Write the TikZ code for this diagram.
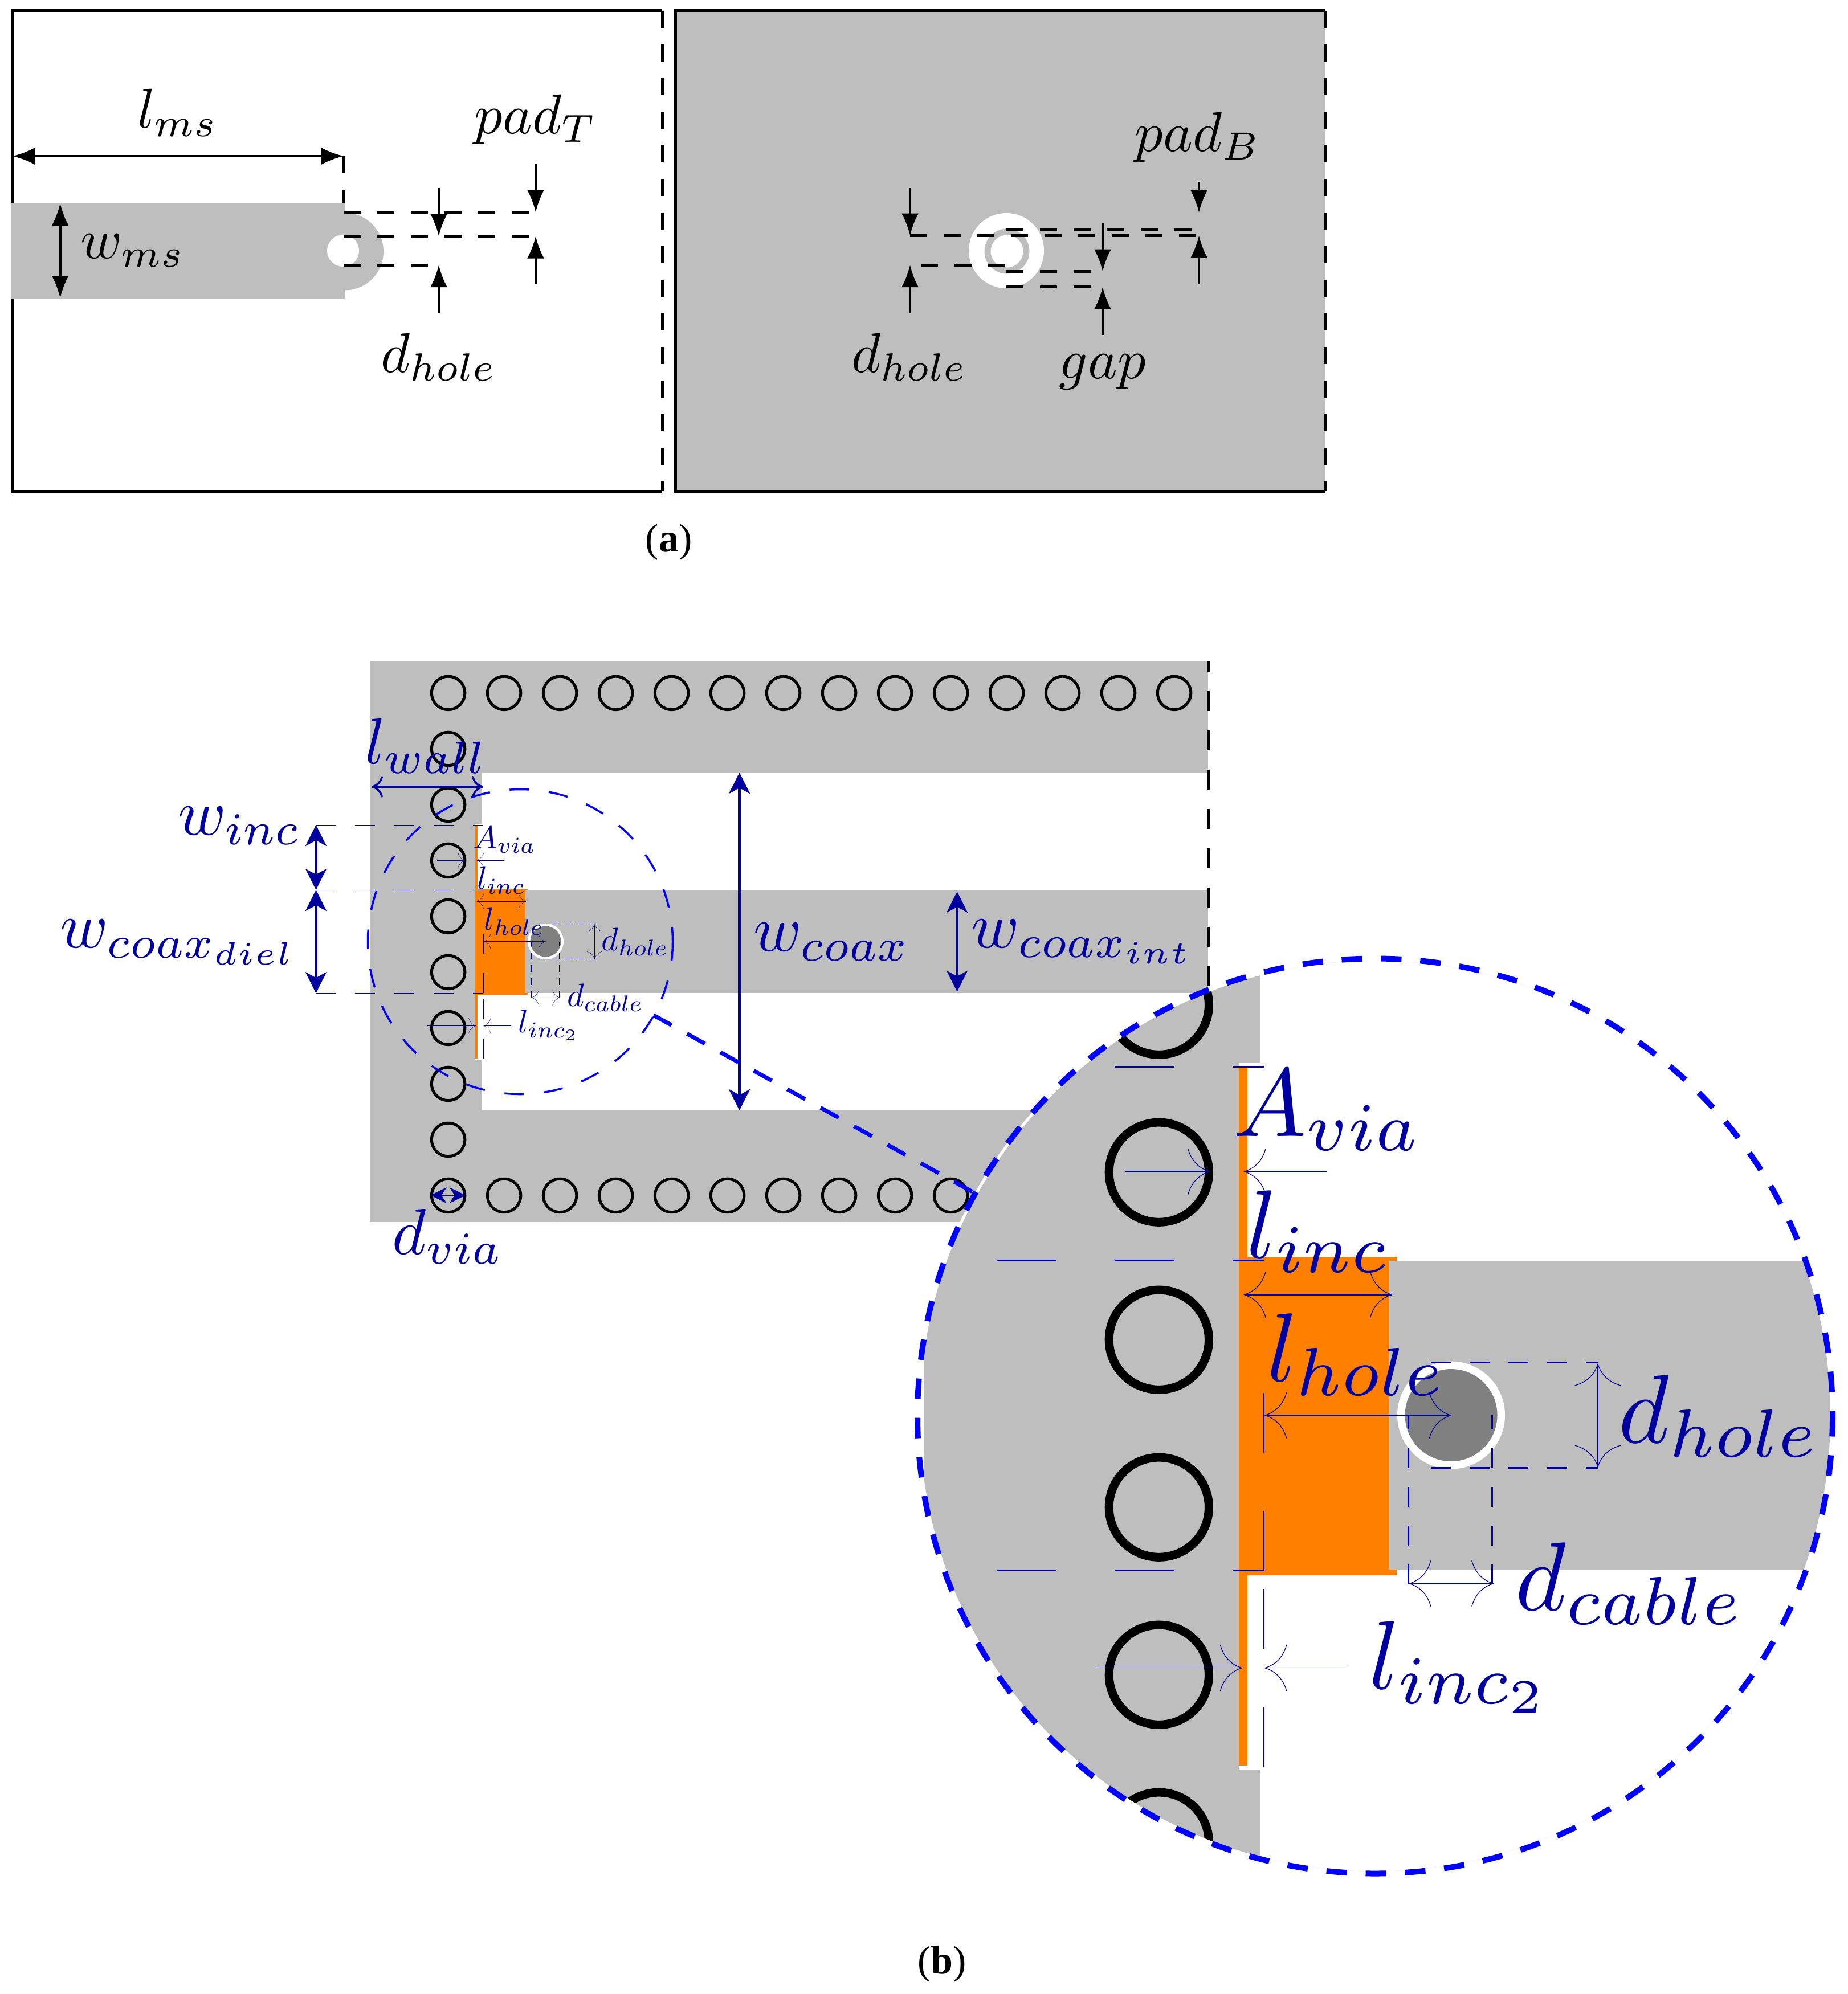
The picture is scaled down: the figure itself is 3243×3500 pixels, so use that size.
\documentclass[tikz,border=0pt]{standalone}
\usepackage[no-math]{fontspec}
\newfontfamily\capfont{Liberation Serif}
\usetikzlibrary{arrows.meta}
\definecolor{pcb}{RGB}{190,190,190}
\definecolor{navyb}{RGB}{0,0,160}
\definecolor{lensb}{RGB}{0,0,255}
\definecolor{feed}{RGB}{255,128,0}
\definecolor{core}{RGB}{128,128,128}
\tikzset{
  blk/.style={line width=5pt,black},
  blkd/.style={blk,dash pattern=on 30pt off 29pt},
  dimk/.style={line width=4pt,black},
  ltip/.tip={Latex[length=39pt,width=30pt]},
  mathk/.style={inner sep=0pt,scale=9.85,black},
  mathb/.style={inner sep=0pt,scale=11.4,navyb},
  stip/.tip={Stealth[length=37pt,width=37pt,inset=10pt]},
  wtip/.tip={Computer Modern Rightarrow[length=20pt,width=38pt,line width=3.5pt]},
  vtip/.tip={Stealth[length=28pt,width=28pt,inset=9pt]},
}
\newcommand{\scene}[2]{%
  \pgfmathsetmacro\fw{5*#1}%
  \pgfmathsetmacro\dA{35*#1}\pgfmathsetmacro\dB{34*#1}%
  \pgfmathsetmacro\eA{11.7*#1}\pgfmathsetmacro\eB{11*#1}%
  \pgfmathsetmacro\thinw{0.8*#1}\pgfmathsetmacro\hairw{0.5*#1}%
  \pgfmathsetmacro\tl{13*#1}\pgfmathsetmacro\tw{27*#1}\pgfmathsetmacro\tb{0.4*#1}%
  \pgfmathsetmacro\ls{5.7*#1}%
  \tikzset{thintip/.tip={Computer Modern Rightarrow[length=\tl pt,width=\tw pt,line width=\tb pt]},
    dimn/.style={navyb,line width=\thinw pt},
    dimh/.style={navyb,line width=\hairw pt},
    dashn/.style={navyb,line width=\thinw pt,dash pattern=on \dA pt off \dB pt},
    dashf/.style={navyb,line width=\thinw pt,dash pattern=on \eA pt off \eB pt},
    slabel/.style={inner sep=0pt,scale=\ls,navyb}}%
  % substrate
  \fill[pcb] (649,1160) rectangle (2120,2145);
  \fill[white] (845.7,1356) rectangle (2122.5,1949);
  \fill[pcb] (845.7,1562) rectangle (2120,1742.8);
  \draw[black,line width=\fw pt,dash pattern=on \dA pt off \dB pt] (2120,2145) -- (2120,1160);
  % feed
  \fill[white] (833.3,1446.3) rectangle (845.7,1859.7);
  \fill[feed] (833.3,1449.2) rectangle (838.3,1857.5);
  \fill[feed] (833.3,1559.8) rectangle (926,1746.2);
  \fill[pcb] (920.9,1562) rectangle (1000,1742.8);
  % vias
  \foreach \k in {0,...,9}{\draw[black,line width=\fw pt] (786.6,{1216.4+98*\k}) circle (29.2);}
  \foreach \k in {1,...,13}{\draw[black,line width=\fw pt] ({786.6+98*\k},1216.4) circle (29.2);
     \draw[black,line width=\fw pt] ({786.6+98*\k},2098.4) circle (29.2);}
  % coax hole
  \fill[white] (957.5,1652.5) circle (31.5);
  \fill[core] (957.5,1652.5) circle (27);
  % extension lines
  \draw[dashn] (553.6,1448.6) -- (848,1448.6);
  \draw[dashn] (553.6,1562) -- (848,1562);
  \draw[dashn] (553.6,1743.4) -- (848,1743.4);
  \draw[dashn] (848,1743.4) -- (848,1639);
  \draw[dashn] (848,1858) -- (848,1743.4);
  \draw[dashf] (945.5,1621.4) -- (1043.3,1621.4);
  \draw[dashf] (945.5,1683.3) -- (1043.3,1683.3);
  \draw[dashf] (932.5,1751.5) -- (932.5,1652.5);
  \draw[dashf] (981.5,1751.5) -- (981.5,1652.5);
  % thin dimension arrows
  \draw[dimn,-thintip] (767,1510) -- (816.4,1510);
  \draw[dimn,-thintip] (884.8,1510) -- (836.2,1510);
  \draw[dimn,thintip-thintip] (836.2,1582) -- (923,1582);
  \draw[dimn,thintip-thintip] (848.4,1652.6) -- (957.6,1652.6);
  \draw[dimn,thintip-thintip] (1043.3,1622.3) -- (1043.3,1683);
  \draw[dimn,thintip-thintip] (932.8,1751) -- (982.4,1751);
  \draw[dimh,-thintip] (749.8,1800.4) -- (835.3,1800.4);
  \draw[dimh,-thintip] (897.4,1800.4) -- (848.4,1800.4);
  % labels
  \node[slabel] (#2avia) at (885.5,1474) {$A_{via}$};
  \node[slabel] (#2linc) at (880,1545) {$l_{inc}$};
  \node[slabel] (#2lhole) at (902.5,1617) {$l_{hole}$};
  \node[slabel] (#2dhole) at (1114.5,1653) {$d_{hole}$};
  \node[slabel] (#2dcable) at (1062,1751) {$d_{cable}$};
  \node[slabel] (#2lincb) at (963,1800) {$l_{inc_2}$};
}
\begin{document}
\begin{tikzpicture}[x=1pt,y=-1pt]
\useasboundingbox (0,0) rectangle (3243,3500);
\fill[white] (0,0) rectangle (3243,3500);
% ---------- panel (a), top layer ----------
\draw[blk] (1162,19) -- (21.5,19) -- (21.5,862) -- (1162,862);
\draw[blkd] (1162,19) -- (1162,862);
\fill[pcb] (19,356) rectangle (605,523.5);
\fill[pcb] (605,441.5) circle (68);
\fill[white] (602,440) circle (28);
\draw[blkd] (603,274) -- (603,356);
\draw[blkd] (603,372.5) -- (940,372.5);
\draw[blkd] (603,414.5) -- (940,414.5);
\draw[blkd] (603,465) -- (770,465);
\draw[dimk,ltip-ltip] (22,274) -- (603,274);
\draw[dimk,ltip-ltip] (105.6,357) -- (105.6,523);
\draw[dimk,-ltip] (770,330) -- (770,414.5);
\draw[dimk,-ltip] (770,550) -- (770,465);
\draw[dimk,-ltip] (940,287) -- (940,372.5);
\draw[dimk,-ltip] (940,499) -- (940,414.5);
\node[mathk] (lms) at (312,198) {$l_{ms}$};
\node[mathk] (padt) at (940,210) {$pad_T$};
\node[mathk] (wms) at (233,440) {$w_{ms}$};
\node[mathk] (dha) at (770,627) {$d_{hole}$};
% ---------- panel (a), bottom layer ----------
\fill[pcb] (1185,19) rectangle (2325.6,862);
\draw[blk] (2325.6,19) -- (1185,19) -- (1185,862) -- (2325.6,862);
\draw[blkd] (2325.6,19) -- (2325.6,862);
\fill[white] (1766,440) circle (66);
\fill[pcb] (1767,441) circle (39.5);
\fill[white] (1767,441) circle (28.5);
\draw[blkd] (1597,413.5) -- (2104,413.5);
\draw[blkd] (1766,403.5) -- (2104,403.5);
\draw[blkd] (1616,465) -- (1766,465);
\draw[blkd] (1766,476.5) -- (1935,476.5);
\draw[blkd] (1766,503.5) -- (1935,503.5);
\draw[dimk,-ltip] (1597,330) -- (1597,413.5);
\draw[dimk,-ltip] (1597,550) -- (1597,465);
\draw[dimk,-ltip] (1935,392) -- (1935,476.5);
\draw[dimk,-ltip] (1935,588) -- (1935,503.5);
\draw[dimk,-ltip] (2104,319) -- (2104,373);
\draw[dimk,-ltip] (2104,499) -- (2104,413.5);
\node[mathk] (padb) at (2102,241) {$pad_B$};
\node[mathk] (dhb) at (1596,627) {$d_{hole}$};
\node[mathk] (gap) at (1935,653) {$gap$};
\node[inner sep=0pt,scale=7] (capa) at (1173.5,952) {\capfont(\textbf{a})};
% ---------- panel (b) ----------
\scene{1}{s}
\draw[navyb,line width=4.5pt,wtip-wtip] (652,1381) -- (848,1381);
\draw[navyb,line width=4pt,stip-stip] (554.5,1448) -- (554.5,1562);
\draw[navyb,line width=4pt,stip-stip] (554.5,1562) -- (554.5,1743.3);
\draw[navyb,line width=5pt,stip-stip] (1297.6,1356) -- (1297.6,1949);
\draw[navyb,line width=3.5pt,stip-stip] (1679.6,1565) -- (1679.6,1740.7);
\draw[navyb,line width=1pt,vtip-vtip] (755.7,2098) -- (816.7,2098);
\node[mathb] (lwall) at (748,1309) {$l_{wall}$};
\node[mathb] (winc) at (421,1449) {$w_{inc}$};
\node[mathb] (wdiel) at (315,1654) {$w_{coax_{diel}}$};
\node[mathb] (wcoax) at (1460,1653) {$w_{coax}$};
\node[mathb] (wint) at (1901,1653) {$w_{coax_{int}}$};
\node[mathb] (dvia) at (786,2170) {$d_{via}$};
% connection to the magnifier
\coordinate (spyA) at (1147,1782);
\coordinate (spyB) at (1712,2095);
\draw[lensb,line width=7pt,dash pattern=on 36pt off 31pt] (spyA) -- (spyB);
\draw[lensb,line width=3.5pt,dash pattern=on 34pt off 35pt] (1180.5,1653) arc[start angle=0,end angle=360,radius=267.5];
% magnifier
\fill[white] (2413,2485.5) circle (804);
\begin{scope}
  \clip (2413,2485.5) circle (799);
  \begin{scope}[shift={(-326pt,2473.5pt)},scale=3]
    \scene{3}{b}
  \end{scope}
\end{scope}
\draw[lensb,line width=10pt,dash pattern=on 36pt off 33pt] (3216,2485.5) arc[start angle=0,end angle=360,radius=803];
\node[inner sep=0pt,scale=7] (capb) at (1653,3448) {\capfont(\textbf{b})};
\end{tikzpicture}
\end{document}
